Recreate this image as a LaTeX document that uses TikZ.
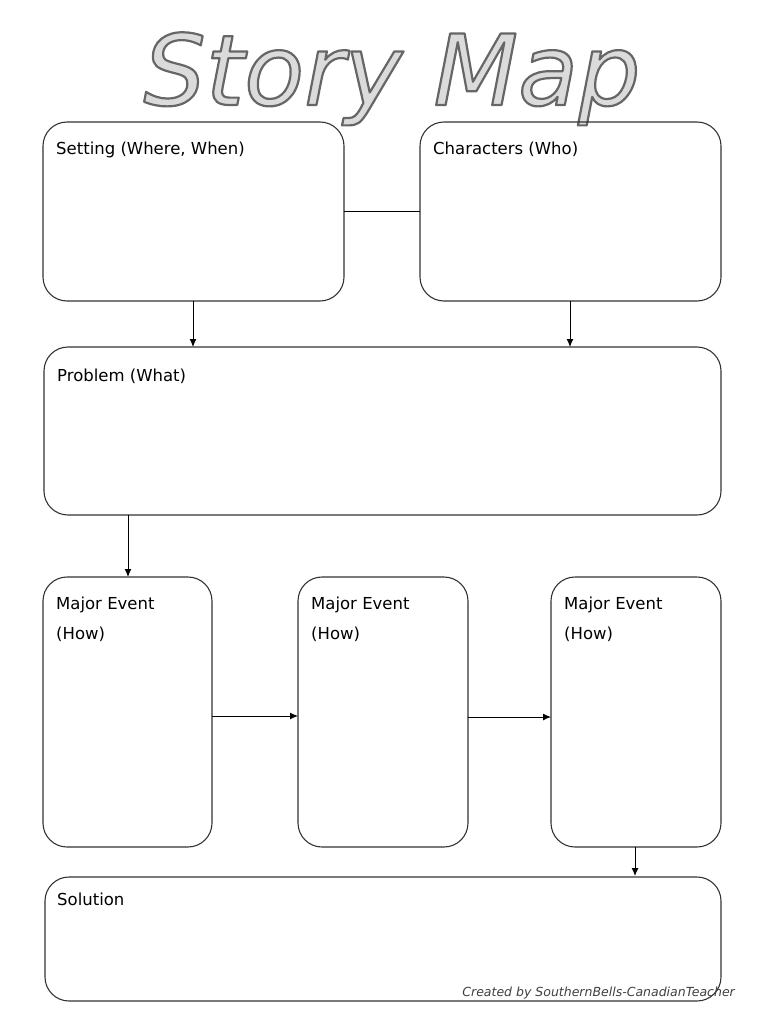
\documentclass[tikz,border=0pt]{standalone}
\usepackage{fontspec}
\setmainfont{DejaVu Sans}
\usetikzlibrary{arrows.meta}
\newcommand{\outlinetext}[1]{\special{pdf:literal direct q 0.4 G 2.2 w 1 j 2 Tr}#1\special{pdf:literal direct 0 Tr Q}}
\begin{document}
\begin{tikzpicture}[x=1pt,y=-1pt,
  box/.style={draw=black!80,line width=1.1pt,rounded corners=24pt},
  lbl/.style={anchor=base west,font=\fontsize{16.5}{30}\selectfont,inner sep=0pt,text=black},
  conn/.style={draw=black,line width=1pt},
  arr/.style={conn,-{Latex[length=8pt,width=7pt]}},
  ttl/.style={font=\fontsize{98}{98}\selectfont\itshape,inner sep=0pt}]
\useasboundingbox (0,0) rectangle (768,1024);
% title
\node[ttl,anchor=base,text=gray!28] (title) at (392,105) {\outlinetext{Story Map}};
% boxes
\draw[box] (43,122) rectangle (344,301);
\node[lbl] (setting) at (56,155) {Setting (Where, When)};
\draw[box] (420,122) rectangle (721,301);
\node[lbl] (characters) at (433,155) {Characters (Who)};
\draw[box] (44,347) rectangle (721,515);
\node[lbl] (problem) at (57,381) {Problem (What)};
\draw[box] (43,577) rectangle (212,847);
\node[lbl] (ev1) at (56,609) {Major Event};
\node[lbl] (ev1b) at (56,639) {(How)};
\draw[box] (298,577) rectangle (468,847);
\node[lbl] (ev2) at (311,609) {Major Event};
\node[lbl] (ev2b) at (311,639) {(How)};
\draw[box] (551,577) rectangle (721,847);
\node[lbl] (ev3) at (564,609) {Major Event};
\node[lbl] (ev3b) at (564,639) {(How)};
\draw[box] (45,877) rectangle (721,1001);
\node[lbl] (solution) at (57,905) {Solution};
% connector anchors
\coordinate (a1) at (344,212); \coordinate (a2) at (420,212);
\coordinate (b1) at (193,301); \coordinate (b2) at (193,347);
\coordinate (c1) at (570,301); \coordinate (c2) at (570,347);
\coordinate (d1) at (128,515); \coordinate (d2) at (128,577);
\coordinate (e1) at (212,716); \coordinate (e2) at (298,716);
\coordinate (f1) at (468,717); \coordinate (f2) at (551,717);
\coordinate (g1) at (635,847); \coordinate (g2) at (635,876);
\draw[conn] (a1) -- (a2);
\draw[arr] (b1) -- (b2);
\draw[arr] (c1) -- (c2);
\draw[arr] (d1) -- (d2);
\draw[arr] (e1) -- (e2);
\draw[arr] (f1) -- (f2);
\draw[arr] (g1) -- (g2);
% credit
\node[anchor=base east,inner sep=0pt,font=\fontsize{12.5}{14}\selectfont\itshape,text=black!75] (credit) at (735,996) {Created by SouthernBells-CanadianTeacher};
\end{tikzpicture}
\end{document}
